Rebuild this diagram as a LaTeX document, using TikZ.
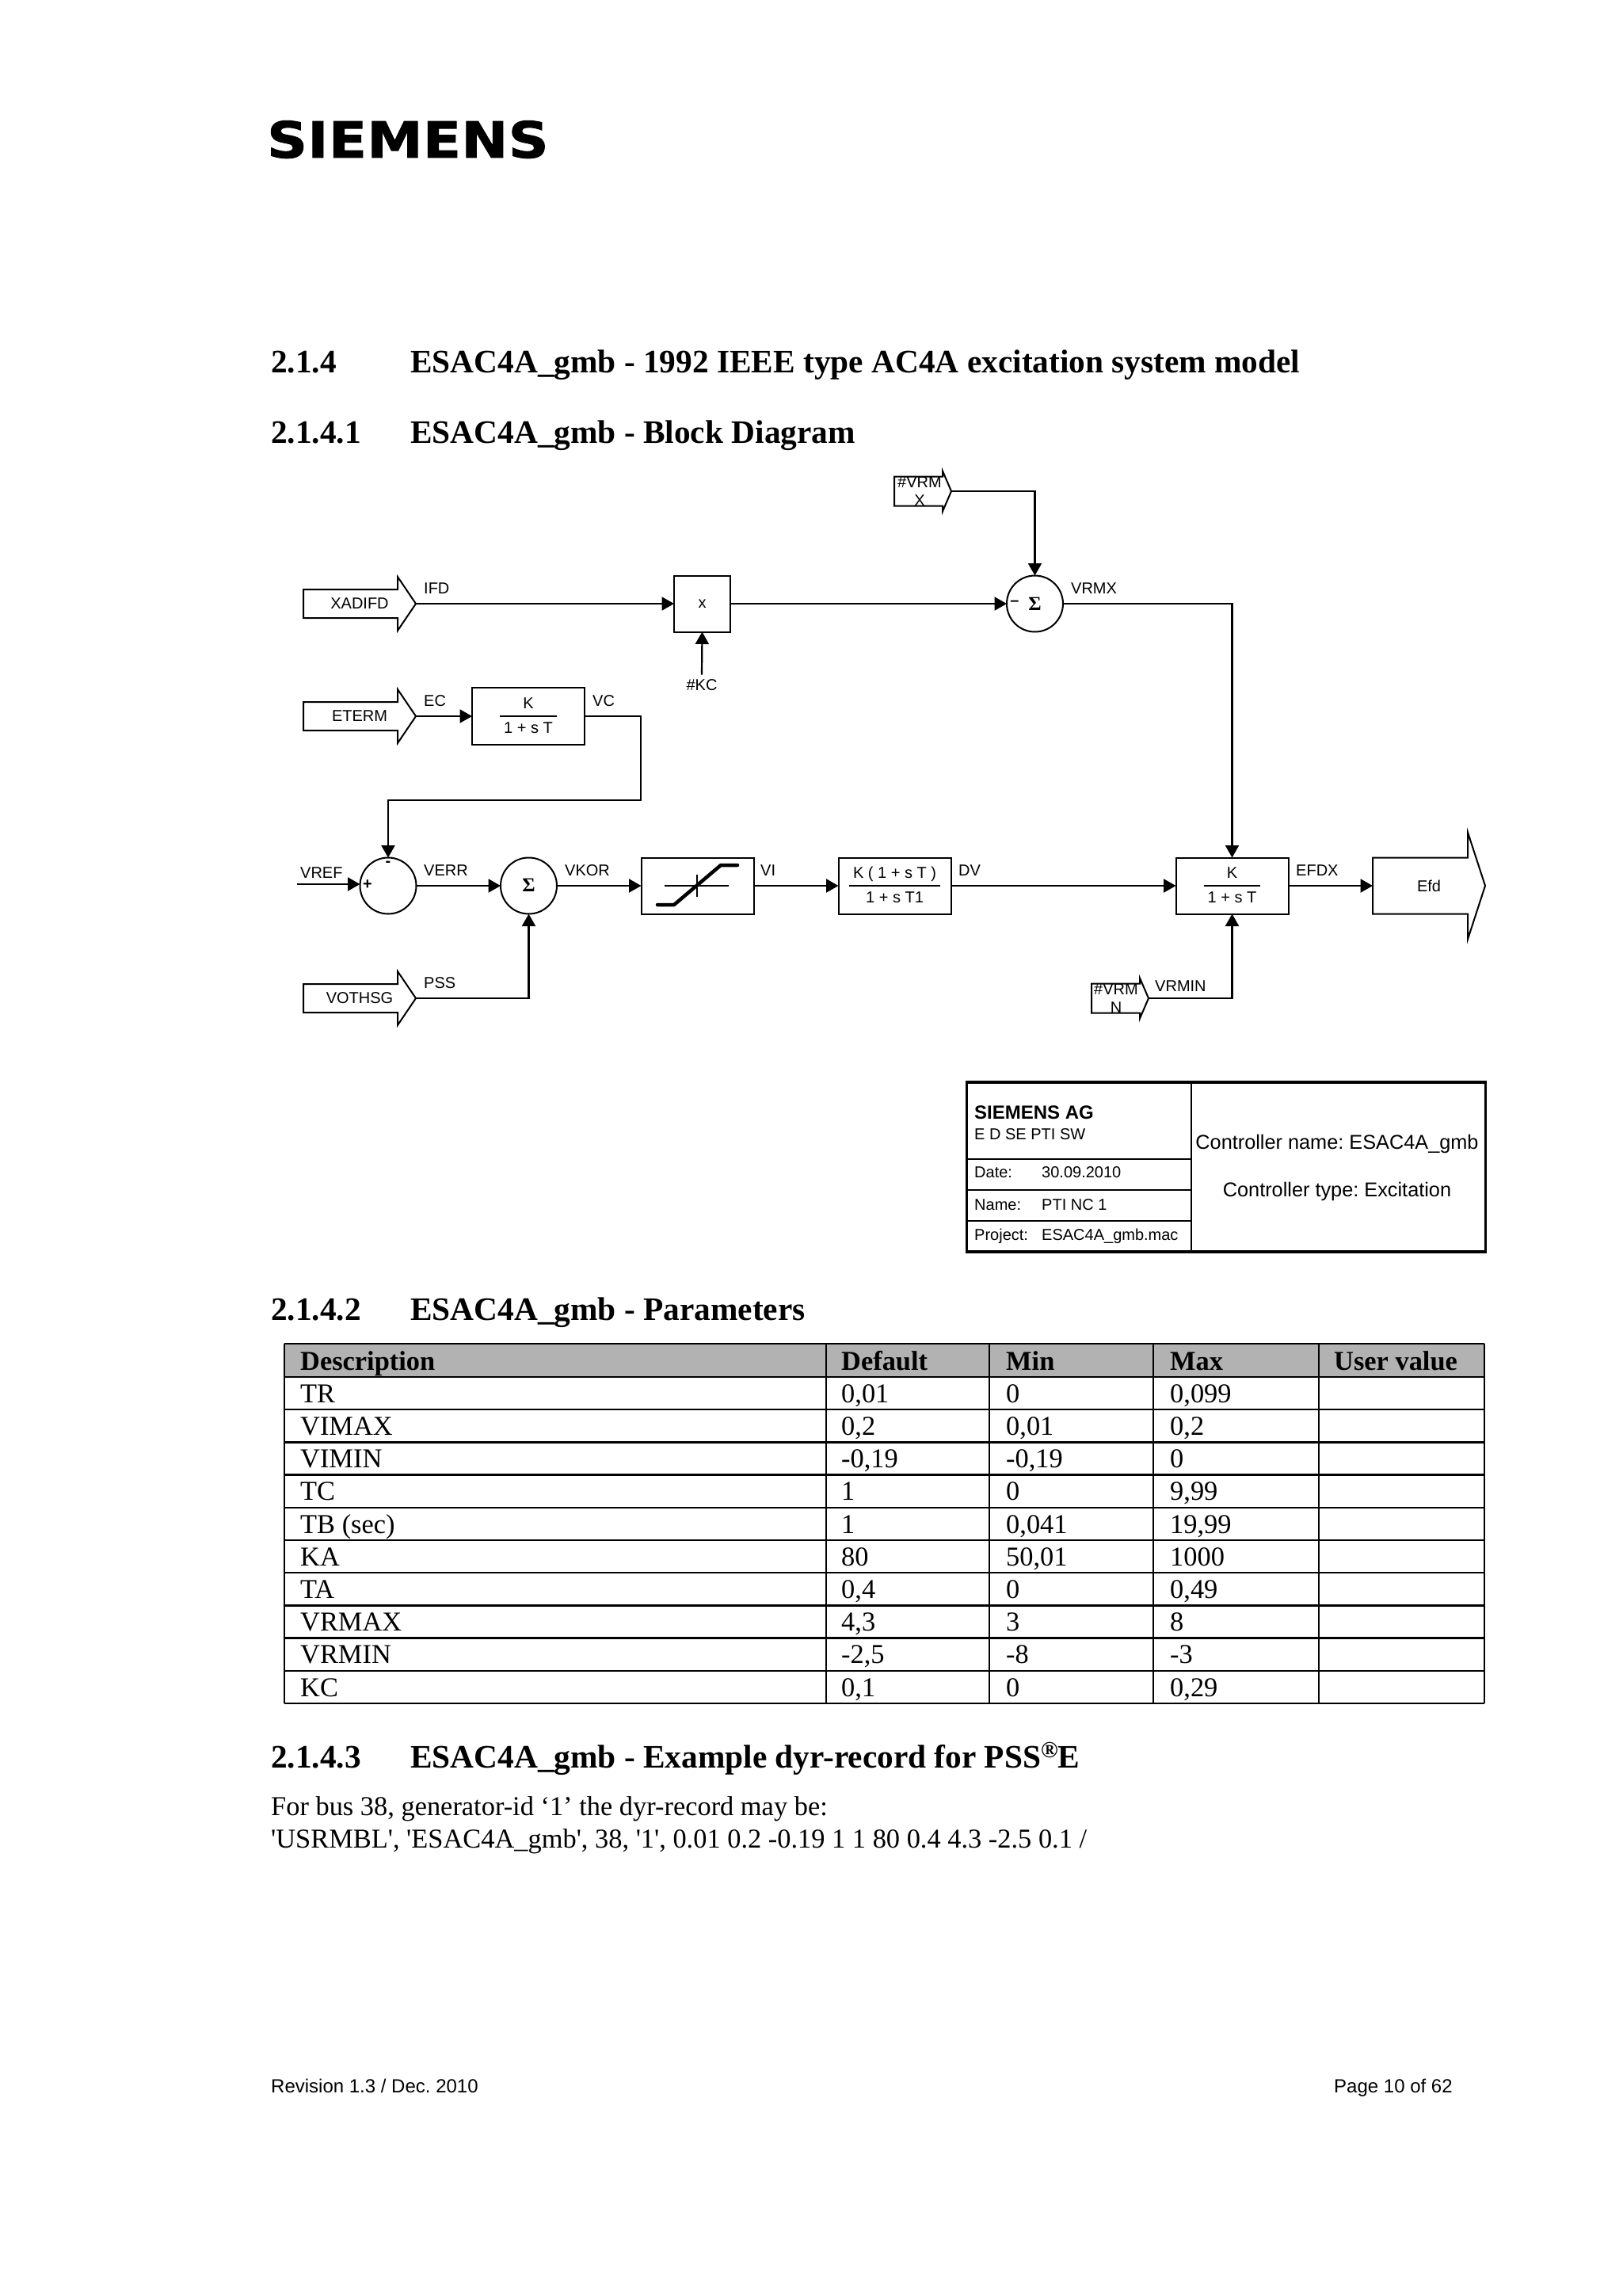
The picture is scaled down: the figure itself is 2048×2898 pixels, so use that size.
\documentclass[tikz,border=0pt]{standalone}
\usepackage{fontspec}
\usepackage{array}
\setmainfont{Liberation Serif}
\setsansfont{Liberation Sans}
\newfontfamily\logofont[FakeStretch=1.12,FakeBold=1.5,LetterSpace=0.5]{DejaVu Sans Bold}
\usetikzlibrary{arrows.meta}

% Two-line transfer function with a bar between the lines
\newcommand{\gainfrac}[2]{\setlength{\tabcolsep}{5pt}\setlength{\arrayrulewidth}{2pt}\begin{tabular}{c}#1\\\hline #2\end{tabular}}

\tikzset{
  diag/.style={font=\sffamily\fontsize{20}{29}\selectfont, inner sep=0pt},
  sig/.style={diag, anchor=west},
  blockbox/.style={diag, draw, line width=2pt, outer sep=0pt, minimum width=#1, minimum height=71pt},
  sumnode/.style={diag, draw, circle, line width=2pt, outer sep=0pt, minimum size=71pt},
  port/.style={diag, outer sep=0pt},
  wire/.style={line width=2.2pt, -{Triangle[length=15.5pt,width=17pt]}},
  heading/.style={font=\bfseries\fontsize{41.35}{48}\selectfont, anchor=base west, inner sep=0pt},
  plain/.style={font=\fontsize{34.4}{41}\selectfont, anchor=base west, inner sep=0pt},
  tablehead/.style={font=\bfseries\fontsize{34.4}{41}\selectfont, anchor=base west, inner sep=0pt},
  stamp/.style={font=\sffamily\fontsize{20}{24}\selectfont, anchor=west, inner sep=0pt},
  stampbig/.style={font=\sffamily\fontsize{25.3}{30}\selectfont, inner sep=0pt},
  foot/.style={font=\sffamily\fontsize{24}{28}\selectfont, anchor=base west, inner sep=0pt},
  sigmasign/.style={font=\bfseries\fontsize{25}{25}\selectfont, inner sep=0pt}
}

\begin{document}
\frenchspacing
\begin{tikzpicture}[x=1pt,y=-1pt]
\useasboundingbox (0,0) rectangle (2048,2898);

% Logo
\node [font=\logofont\fontsize{63}{70}\selectfont, anchor=base west, inner sep=0pt] (logo) at (337,199) {SIEMENS};

% Headings
\node [heading] (h1num) at (342,470.3) {2.1.4};
\node [heading] (h1txt) at (518,470.3) {ESAC4A\_gmb - 1992 IEEE type AC4A excitation system model};
\node [heading] (h2num) at (342,559.3) {2.1.4.1};
\node [heading] (h2txt) at (518,559.3) {ESAC4A\_gmb - Block Diagram};
\node [heading] (h3num) at (342,1666.3) {2.1.4.2};
\node [heading] (h3txt) at (518,1666.3) {ESAC4A\_gmb - Parameters};
\node [heading] (h4num) at (342,2231.3) {2.1.4.3};
\node [heading] (h4txt) at (518,2231.3) {ESAC4A\_gmb - Example dyr-record for PSS\raisebox{13pt}{\fontsize{29}{29}\selectfont\textregistered}E};

% Input and output arrows
\node [port, minimum width=142pt, minimum height=36pt] (xadifd) at (454,762) {XADIFD};
\node [port, minimum width=142pt, minimum height=36pt] (eterm) at (454,904) {ETERM};
\node [port, minimum width=142pt, minimum height=36pt] (vothsg) at (454,1260) {VOTHSG};
\node [port, minimum width=72pt, minimum height=37pt] (vrmx) at (1165,620) {};
\node [port, minimum width=72pt, minimum height=37pt] (vrmn) at (1414,1260) {};
\node [port, minimum width=142pt, minimum height=71pt] (efd) at (1804,1118) {Efd};
\foreach \nm/\hl/\ex in {xadifd/23/16, eterm/23/16, vothsg/23/16, vrmx/11/7, vrmn/11/7, efd/22/32}
{
    \draw [line width=2pt, line join=miter] (\nm.south west) -- (\nm.north west)
      -- ([xshift=-\hl pt]\nm.north east) -- ([xshift=-\hl pt, yshift=\ex pt]\nm.north east)
      -- (\nm.east) -- ([xshift=-\hl pt, yshift=-\ex pt]\nm.south east)
      -- ([xshift=-\hl pt]\nm.south east) -- cycle;
}
\node [diag, align=center, font=\sffamily\fontsize{20}{23}\selectfont] (vrmxtxt) at (1161,620) {\#VRM\\X};
\node [diag, align=center, font=\sffamily\fontsize{20}{23}\selectfont] (vrmntxt) at (1409,1260) {\#VRM\\N};

% Blocks
\node [blockbox=71pt] (mult) at (886.5,762) {x};
\node [blockbox=142pt, minimum height=72pt] (lagec) at (667,904) {\gainfrac{K}{1 + s T}};
\node [blockbox=142pt] (limit) at (880.5,1118) {};
\node [blockbox=142pt] (leadlag) at (1129.5,1118) {\gainfrac{K ( 1 + s T )}{1 + s T1}};
\node [blockbox=142pt] (lagout) at (1555.5,1118) {\gainfrac{K}{1 + s T}};

% Summing points
\node [sumnode] (sumerr) at (490,1118) {};
\node [sumnode] (sumkor) at (667.5,1118) {};
\node [sumnode] (summax) at (1306.5,762) {};
\node [sigmasign] (sigkor) at (667.5,1117) {Σ};
\node [sigmasign] (sigmax) at (1306.5,762) {Σ};
\node [font=\sffamily\bfseries\fontsize{20}{20}\selectfont, inner sep=0pt] (pluserr) at (464,1117) {+};
\node [font=\sffamily\bfseries\fontsize{20}{20}\selectfont, inner sep=0pt] (minuserr) at (490,1090) {-};
\node [font=\sffamily\bfseries\fontsize{20}{20}\selectfont, inner sep=0pt] (minusmax) at (1281,761) {–};

% Limiter curve
\draw [line width=1.5pt] (839,1118) -- (920,1118);
\draw [line width=1.5pt] (880,1104) -- (880,1132);
\draw [line width=4.5pt, line cap=round, line join=round] (830,1142) -- (851,1142) -- (910,1092) -- (931,1092);

% Free ends
\coordinate (vrefin) at (375,1116);
\node [diag] (kc) at (886,865) {\#KC};

% Connectors
\draw [wire] (xadifd.east) -- (mult.west);
\draw [wire] ([yshift=6pt]kc.north) -- (mult.south);
\draw [wire] (mult.east) -- (summax.west);
\draw [wire] (vrmx.east) -| (summax.north);
\draw [wire] (summax.east) -| (lagout.north);
\draw [wire] (eterm.east) -- (lagec.west);
\draw [wire] (lagec.east) -- ++(71,0) -- ++(0,106) -| (sumerr.north);
\draw [wire] (vrefin) -- (sumerr.west |- vrefin);
\draw [wire] (sumerr.east) -- (sumkor.west);
\draw [wire] (vothsg.east) -| (sumkor.south);
\draw [wire] (sumkor.east) -- (limit.west);
\draw [wire] (limit.east) -- (leadlag.west);
\draw [wire] (leadlag.east) -- (lagout.west);
\draw [wire] (vrmn.east) -| (lagout.south);
\draw [wire] (lagout.east) -- (efd.west);

% Signal names
\node [sig] (ifd) at (535,743) {IFD};
\node [sig] (ec) at (535,885) {EC};
\node [sig] (vc) at (748,885) {VC};
\node [sig] (vref) at (379,1102) {VREF};
\node [sig] (verr) at (535,1099) {VERR};
\node [sig] (vkor) at (713,1099) {VKOR};
\node [sig] (vi) at (960,1099) {VI};
\node [sig] (dv) at (1210,1099) {DV};
\node [sig] (efdx) at (1636,1099) {EFDX};
\node [sig] (pss) at (535,1241) {PSS};
\node [sig] (vrmxlab) at (1352,743) {VRMX};
\node [sig] (vrmin) at (1458,1245) {VRMIN};

% Title block
\node [draw, line width=3.5pt, minimum width=655pt, minimum height=214pt, inner sep=0pt] (stampbox) at (1548,1473) {};
\draw [line width=2pt] (1504,1366) -- (1504,1580);
\foreach \y in {1463,1502,1541}
{
    \draw [line width=1.5pt] (1220,\y) -- (1504,\y);
}
\node [font=\sffamily\bfseries\fontsize{24}{28}\selectfont, anchor=west, inner sep=0pt] (siemensag) at (1230,1404) {SIEMENS AG};
\node [stamp] (dept) at (1230,1432) {E D SE PTI SW};
\foreach \nm/\y/\lab/\val in {date/1480/Date:/30.09.2010, name/1521/Name:/PTI NC 1, proj/1560/Project:/ESAC4A\_gmb.mac}
{
    \node [stamp] (\nm lab) at (1230,\y) {\lab};
    \node [stamp] (\nm val) at (1315,\y) {\val};
}
\node [stampbig] (ctrlname) at (1688,1444) {Controller name: ESAC4A\_gmb};
\node [stampbig] (ctrltype) at (1688,1504) {Controller type: Excitation};

% Parameter table
\fill [black!30] (359,1696) rectangle (1874,1737);
\foreach \x in {359,1043,1249,1456,1665,1874}
{
    \draw [line width=2.5pt] (\x,1696) -- (\x,2150);
}
\draw [line width=2.5pt] (359,1696) -- (1874,1696);
\foreach \i in {0,...,10}
{
    \pgfmathsetmacro{\yline}{1738+41.2*\i}
    \draw [line width=2.5pt] (359,\yline) -- (1874,\yline);
}
\foreach \nm/\x/\lab in {thdesc/379/Description, thdef/1062/Default, thmin/1270/Min, thmax/1477/Max, thuser/1684/User value}
{
    \node [tablehead] (\nm) at (\x,1729) {\lab};
}
\foreach \lab/\dflt/\lo/\hi [count=\i] in {TR/{0,01}/0/{0,099}, VIMAX/{0,2}/{0,01}/{0,2}, VIMIN/{-0,19}/{-0,19}/0, TC/1/0/{9,99}, TB (sec)/1/{0,041}/{19,99}, KA/80/{50,01}/1000, TA/{0,4}/0/{0,49}, VRMAX/{4,3}/3/8, VRMIN/{-2,5}/-8/-3, KC/{0,1}/0/{0,29}}
{
    \pgfmathsetmacro{\ybase}{1738+41.2*\i-9}
    \node [plain] (rowa\i) at (379,\ybase) {\lab};
    \node [plain] (rowb\i) at (1062,\ybase) {\dflt};
    \node [plain] (rowc\i) at (1270,\ybase) {\lo};
    \node [plain] (rowd\i) at (1477,\ybase) {\hi};
}

% Body text
\node [plain] (body1) at (342,2291) {For bus 38, generator-id ‘1’ the dyr-record may be:};
\node [plain] (body2) at (342,2332) {\textquotesingle USRMBL\textquotesingle, \textquotesingle ESAC4A\_gmb\textquotesingle, 38, \textquotesingle 1\textquotesingle, 0.01 0.2 -0.19 1 1 80 0.4 4.3 -2.5 0.1 /};

% Footer
\node [foot] (footl) at (342,2641) {Revision 1.3 / Dec. 2010};
\node [foot] (footr) at (1684,2641) {Page 10 of 62};

\end{tikzpicture}
\end{document}
